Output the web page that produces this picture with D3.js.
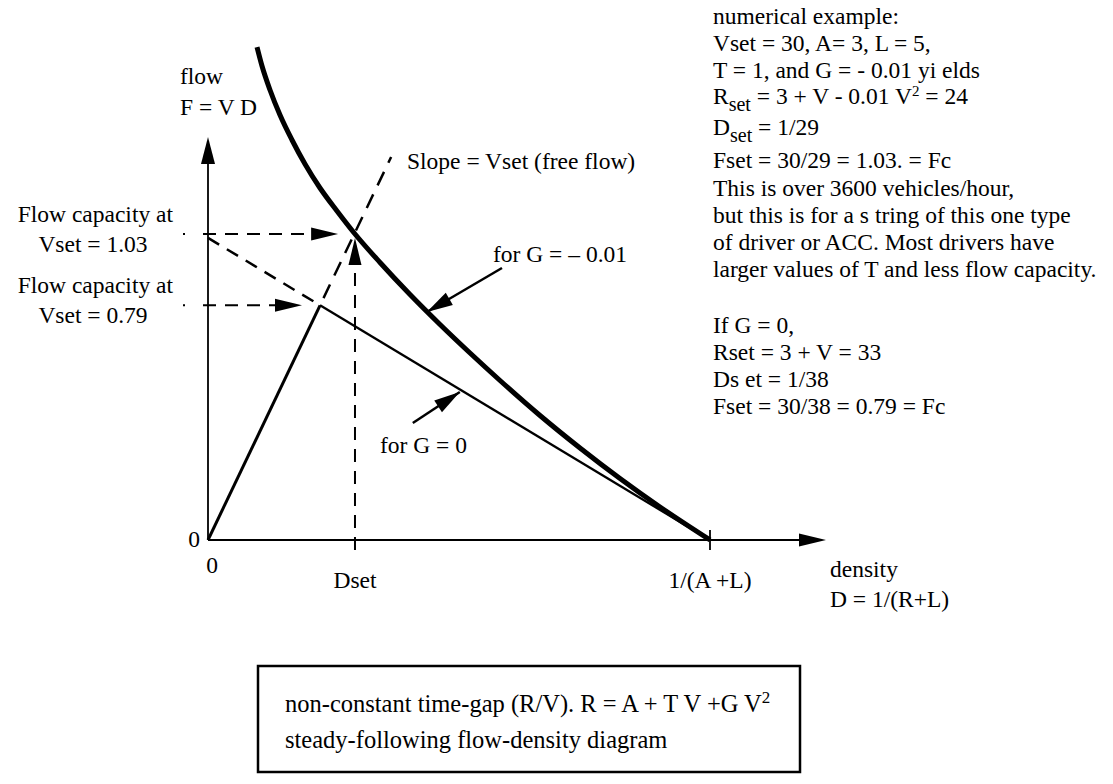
<!DOCTYPE html>
<html><head><meta charset="utf-8">
<script src="https://cdn.jsdelivr.net/npm/d3@7"></script>
<style>
html,body{margin:0;padding:0;background:#fff;}
svg{display:block;}
</style></head><body>
<svg id="chart" width="1113" height="784"></svg>
<script>
// Steady-following flow–density diagram (density D on x, flow F on y)

// x-axis tick positions (density) and their labels
const tickLabels = ["0", "Dset", "1/(A +L)"];
const tickDensity = [0, 0.0366, 0.125];

// flow capacities marked on the y-axis
const capacityFlow = [1.03, 0.79];
const capacityLine1 = ["Flow capacity at", "Flow capacity at"];
const capacityLine2 = ["Vset = 1.03", "Vset = 0.79"];
const capacityArrowTipD = [0.0324, 0.0234];

// G = -0.01 curve
const curveD = [0.01220, 0.01345, 0.01544, 0.01793, 0.02092, 0.02415, 0.02789, 0.03212, 0.03660,
                0.04283, 0.05030, 0.05777, 0.06524, 0.07271, 0.08267, 0.09263, 0.10259, 0.11255, 0.125];
const curveF = [1.6594, 1.5955, 1.5147, 1.4305, 1.3464, 1.2656, 1.1848, 1.1074, 1.0300,
                0.9341, 0.8263, 0.7254, 0.6294, 0.5369, 0.4191, 0.3097, 0.2070, 0.1111, 0];

// free-flow line (slope = Vset), solid up to the G = 0 peak then dashed
const freeFlowD = [0, 0.0279, 0.0456];
const freeFlowF = [0, 0.79, 1.289];

// G = 0 congested branch and its dashed extension to the flow axis
const gZeroD = [0.0279, 0.125];
const gZeroF = [0.79, 0];
const gZeroExtD = [0, 0.0279];
const gZeroExtF = [1.017, 0.79];

// pointer arrows: [tailD, tailF, tipD, tipF]
const arrowCurve = [0.0732, 0.9155, 0.0545, 0.7674];
const arrowLine = [0.0510, 0.3938, 0.0627, 0.4982];

// numerical example text
const exampleLines = [
  [["numerical example:"]],
  [["Vset = 30, A= 3, L = 5,"]],
  [["T = 1, and G = - 0.01 yi elds"]],
  [["R"], ["set", "sub"], [" = 3 + V - 0.01 V"], ["2", "sup"], [" = 24"]],
  [["D"], ["set", "sub"], [" = 1/29"]],
  [["Fset = 30/29 = 1.03. = Fc"]],
  [["This is over 3600 vehicles/hour,"]],
  [["but this is for a s tring of this one type"]],
  [["of driver or ACC. Most drivers have"]],
  [["larger values of T and less flow capacity."]],
  [["If G = 0,"]],
  [["Rset = 3 + V = 33"]],
  [["Ds et =  1/38"]],
  [["Fset = 30/38 = 0.79 = Fc"]]
];
const exampleBaselines = [24, 51, 78, 104, 135, 168, 196, 223, 250, 277, 333, 360, 387, 414];

const captionLines = ["non-constant time-gap (R/V). R = A + T V +G V", "steady-following flow-density diagram"];

const svg = d3.select("#chart");
const x = d3.scaleLinear().domain([0, 0.125]).range([208, 710]);
const y = d3.scaleLinear().domain([0, 1.03]).range([540, 234]);
const FS = 23.5;

function arrowHead(g, x1, y1, x2, y2, len, half) {
  const a = Math.atan2(y2 - y1, x2 - x1);
  const bx = x2 - len * Math.cos(a), by = y2 - len * Math.sin(a);
  const px = -Math.sin(a) * half, py = Math.cos(a) * half;
  g.append("path")
    .attr("d", `M${x2},${y2}L${bx + px},${by + py}L${bx - px},${by - py}Z`)
    .attr("fill", "#000");
}

const g = svg.append("g")
  .attr("font-family", "'Liberation Serif', 'Times New Roman', 'DejaVu Serif', serif");

// axes
g.append("line").attr("x1", x(0)).attr("y1", y(0)).attr("x2", 822).attr("y2", y(0))
  .attr("stroke", "#000").attr("stroke-width", 1.8);
arrowHead(g, x(0), y(0), 826, y(0), 27, 6.5);
g.append("line").attr("x1", x(0)).attr("y1", y(0)).attr("x2", x(0)).attr("y2", 142)
  .attr("stroke", "#000").attr("stroke-width", 1.8);
arrowHead(g, x(0), y(0), x(0), 137, 27, 7);

// tick at 1/(A+L)
g.append("line").attr("x1", x(tickDensity[2])).attr("x2", x(tickDensity[2]))
  .attr("y1", y(0) - 10).attr("y2", y(0) + 10).attr("stroke", "#000").attr("stroke-width", 1.8);

// tick labels
g.append("text").attr("x", x(0) - 8).attr("y", y(0) + 7).attr("text-anchor", "end")
  .attr("font-size", FS).text("0");
tickLabels.forEach((t, i) => {
  g.append("text").attr("x", x(tickDensity[i]) + (i === 0 ? 4 : 0))
    .attr("y", i === 0 ? 573 : 588).attr("text-anchor", "middle")
    .attr("font-size", FS).text(t);
});

// axis titles
g.append("text").attr("x", 180).attr("y", 84).attr("font-size", FS).text("flow");
g.append("text").attr("x", 180).attr("y", 115).attr("font-size", FS).text("F = V D");
g.append("text").attr("x", 830).attr("y", 577).attr("font-size", FS).text("density");
g.append("text").attr("x", 830).attr("y", 607).attr("font-size", FS).text("D = 1/(R+L)");

const dash = "13,9";

// capacity dashed arrows and labels
capacityFlow.forEach((f, i) => {
  const yy = y(f);
  const tip = x(capacityArrowTipD[i]);
  g.append("line").attr("x1", 183).attr("x2", tip - 20).attr("y1", yy).attr("y2", yy)
    .attr("stroke", "#000").attr("stroke-width", 2).attr("stroke-dasharray", "2,18,13,9,13,9,13,9,13,9,13,9,13,9");
  arrowHead(g, 183, yy, tip, yy, 27, 6.5);
  g.append("text").attr("x", 173).attr("y", yy - 12).attr("text-anchor", "end")
    .attr("font-size", FS).text(capacityLine1[i]);
  g.append("text").attr("x", 93).attr("y", yy + 18).attr("text-anchor", "middle")
    .attr("font-size", FS).text(capacityLine2[i]);
});

// Dset vertical dashed arrow
g.append("line").attr("x1", x(tickDensity[1])).attr("x2", x(tickDensity[1]))
  .attr("y1", y(0) + 10).attr("y2", y(1.03) + 25)
  .attr("stroke", "#000").attr("stroke-width", 2).attr("stroke-dasharray", dash);
arrowHead(g, x(tickDensity[1]), y(0), x(tickDensity[1]), y(1.03) + 4, 27, 6.5);

const line = d3.line().x(d => x(d[0])).y(d => y(d[1]));

// free-flow line
const ff = freeFlowD.map((d, i) => [d, freeFlowF[i]]);
g.append("path").attr("d", line(ff.slice(0, 2))).attr("fill", "none")
  .attr("stroke", "#000").attr("stroke-width", 3);
g.append("path").attr("d", line(ff.slice(1))).attr("fill", "none")
  .attr("stroke", "#000").attr("stroke-width", 2.5).attr("stroke-dasharray", "15,10")
  .attr("stroke-dashoffset", -8);

// G = 0 branch
g.append("path").attr("d", line(gZeroD.map((d, i) => [d, gZeroF[i]]))).attr("fill", "none")
  .attr("stroke", "#000").attr("stroke-width", 2.3);
g.append("path").attr("d", line(gZeroExtD.map((d, i) => [d, gZeroExtF[i]]))).attr("fill", "none")
  .attr("stroke", "#000").attr("stroke-width", 2.5).attr("stroke-dasharray", "13,9");

// G = -0.01 curve
const curveLine = d3.line().x(d => x(d[0])).y(d => y(d[1])).curve(d3.curveMonotoneX);
g.append("path").attr("d", curveLine(curveD.map((d, i) => [d, curveF[i]]))).attr("fill", "none")
  .attr("stroke", "#000").attr("stroke-width", 5);

// pointer arrows
[arrowCurve, arrowLine].forEach(a => {
  const x1 = x(a[0]), y1 = y(a[1]), x2 = x(a[2]), y2 = y(a[3]);
  g.append("line").attr("x1", x1).attr("y1", y1).attr("x2", x2).attr("y2", y2)
    .attr("stroke", "#000").attr("stroke-width", 2.5);
  arrowHead(g, x1, y1, x2, y2, 26, 7);
});

// annotations
g.append("text").attr("x", 407).attr("y", 169).attr("font-size", FS).text("Slope = Vset (free flow)");
g.append("text").attr("x", 493).attr("y", 262).attr("font-size", FS).text("for G = \u2013 0.01");
g.append("text").attr("x", 380).attr("y", 453).attr("font-size", FS).text("for G = 0");

// numerical example column
exampleLines.forEach((parts, i) => {
  const t = g.append("text").attr("x", 713).attr("y", exampleBaselines[i]).attr("font-size", FS);
  parts.forEach((p, j) => {
    const s = t.append("tspan").text(p[0]);
    if (p[1] === "sub") s.attr("dy", 7).attr("font-size", 20);
    else if (p[1] === "sup") s.attr("dy", -8).attr("font-size", 15);
    else if (j > 0) {
      // return to the main baseline after a shifted piece
      const prev = parts[j - 1];
      if (prev[1] === "sub") s.attr("dy", -7);
      if (prev[1] === "sup") s.attr("dy", 8);
    }
  });
});

// caption box
g.append("rect").attr("x", 258).attr("y", 666).attr("width", 542).attr("height", 106)
  .attr("fill", "none").attr("stroke", "#000").attr("stroke-width", 2.5);
const cap = g.append("text").attr("x", 285).attr("y", 712).attr("font-size", 24.5);
cap.append("tspan").text(captionLines[0]);
cap.append("tspan").attr("dy", -9).attr("font-size", 17).text("2");
g.append("text").attr("x", 285).attr("y", 748).attr("font-size", 24.5).text(captionLines[1]);
</script>
</body></html>
